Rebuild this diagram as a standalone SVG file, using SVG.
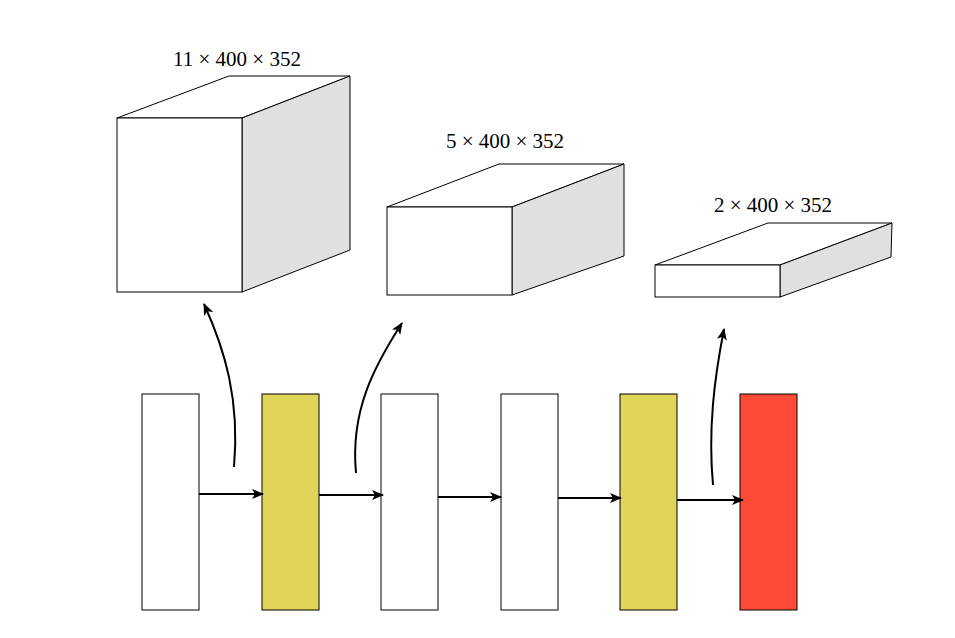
<svg xmlns="http://www.w3.org/2000/svg" width="955" height="638" viewBox="0 0 955 638">
<style>
.f{fill:#fff;stroke:#000;stroke-width:1}
.s{fill:#e0e0e0;stroke:#000;stroke-width:1}
.l{font-family:"Liberation Serif",serif;font-size:21px;text-anchor:middle}
.c{fill:none;stroke:#000;stroke-width:2;marker-end:url(#a)}
</style>
<defs><marker id="a" viewBox="0 0 12 10" refX="11" refY="5" markerWidth="12" markerHeight="10" markerUnits="userSpaceOnUse" orient="auto"><path d="M0,0 L12,5 L0,10 L3,5 Z" fill="#000"/></marker></defs>
<rect width="955" height="638" fill="#fff"/>
<g id="box1"><polygon class="f" points="117,118 229,76 350,76 242,118"/><polygon class="s" points="242,118 350,76 350,250 242,292"/><rect class="f" x="117" y="118" width="125" height="174"/><text class="l" x="237" y="66">11 × 400 × 352</text></g>
<g id="box2"><polygon class="f" points="387,207 499,164 624,164 512,207"/><polygon class="s" points="512,207 624,164 624,256 512,295"/><rect class="f" x="387" y="207" width="125" height="88"/><text class="l" x="505" y="148">5 × 400 × 352</text></g>
<g id="box3"><polygon class="f" points="655,265 768,223 892,223 780,265"/><polygon class="s" points="780,265 892,223 891,257 780,297"/><rect class="f" x="655" y="265" width="125" height="32"/><text class="l" x="773" y="212">2 × 400 × 352</text></g>
<g id="n1"><rect class="f" x="142" y="394" width="57" height="216"/></g>
<g id="n2"><rect x="262" y="394" width="57" height="216" fill="#e1d45a" stroke="#000"/></g>
<g id="n3"><rect class="f" x="381" y="394" width="57" height="216"/></g>
<g id="n4"><rect class="f" x="501" y="394" width="57" height="216"/></g>
<g id="n5"><rect x="620" y="394" width="57" height="216" fill="#e1d45a" stroke="#000"/></g>
<g id="n6"><rect x="740" y="394" width="57" height="216" fill="#ff4a36" stroke="#000"/></g>
<g id="connectors">
<path class="c" d="M199,494 L263,494"/>
<path class="c" d="M319,495 L383,495"/>
<path class="c" d="M438,497 L501,497"/>
<path class="c" d="M558,498 L621,498"/>
<path class="c" d="M677,500 L743,500"/>
<path class="c" d="M234,467 C240,400 225,350 204,304"/>
<path class="c" d="M356,473 C350,410 375,365 402,323"/>
<path class="c" d="M713,485 C708,430 714,380 724,329"/>
</g>
</svg>
